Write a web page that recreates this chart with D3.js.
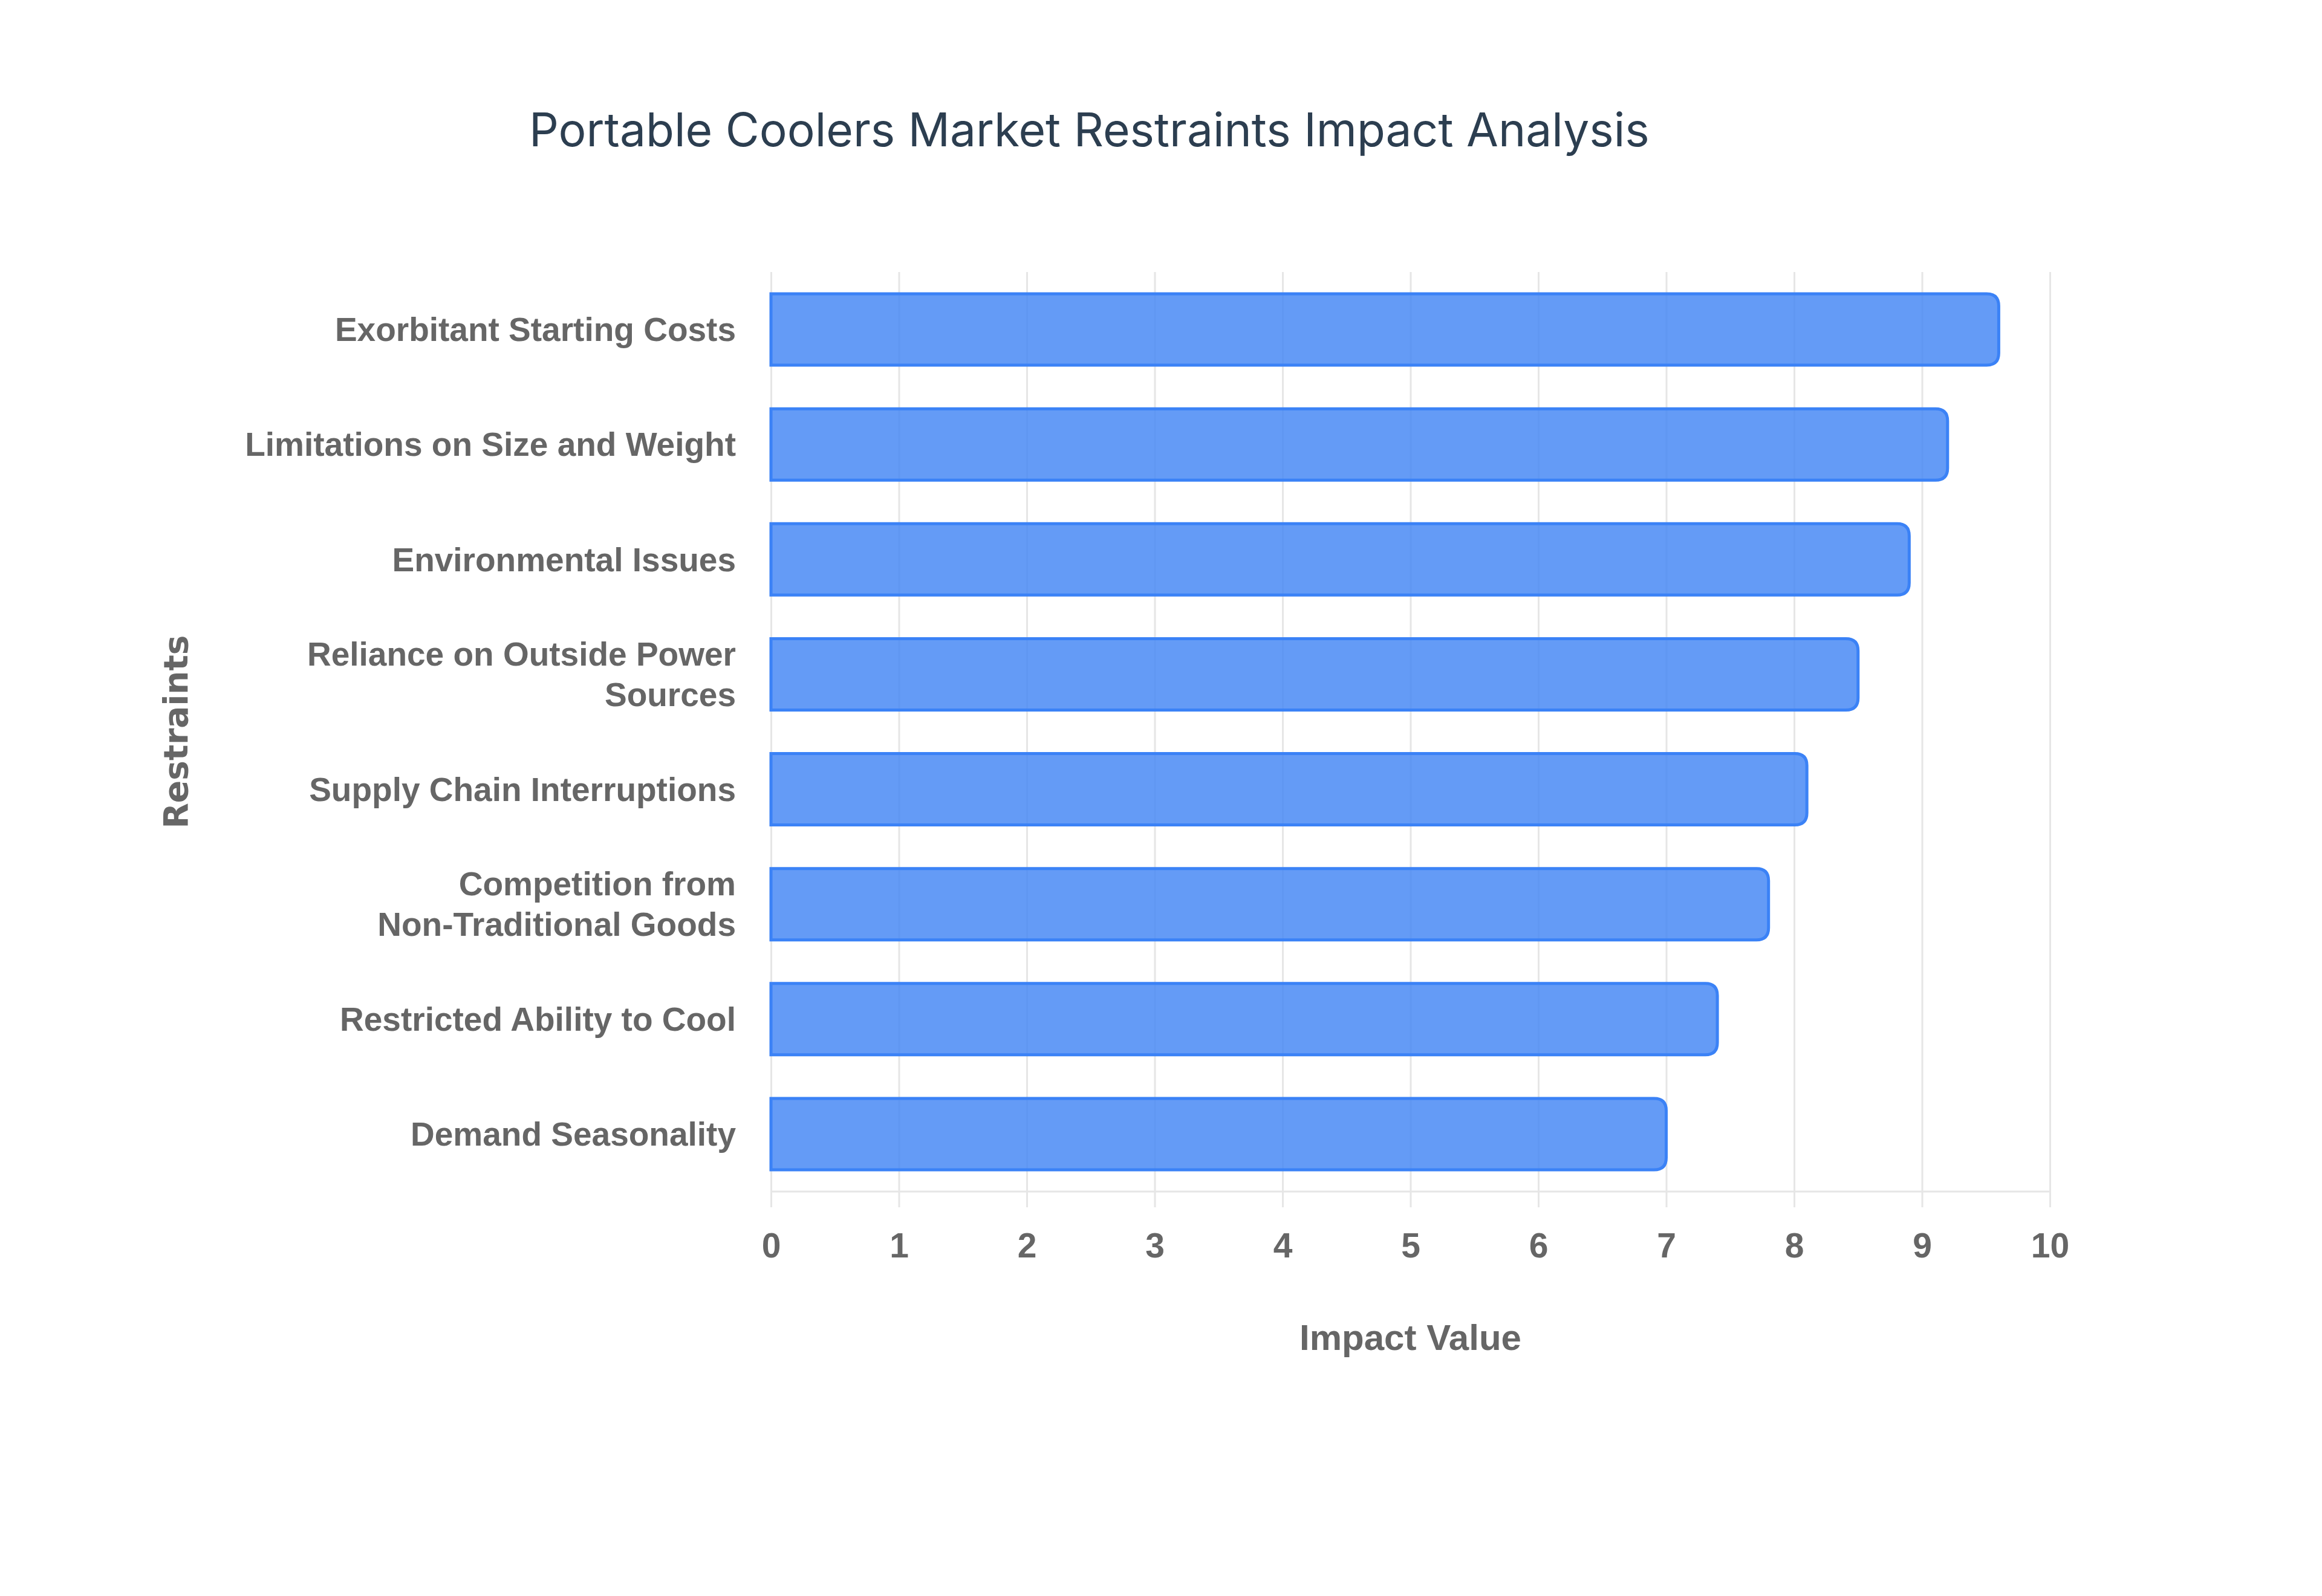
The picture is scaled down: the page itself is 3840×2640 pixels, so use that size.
<!DOCTYPE html>
<html>
<head>
<meta charset="utf-8">
<script src="https://cdn.jsdelivr.net/npm/d3@7"></script>
<style>
  html, body { margin: 0; padding: 0; background: #ffffff; }
  svg { display: block; }
</style>
</head>
<body>
<svg id="chart" width="3840" height="2640"></svg>
<script>
const categories = [
  "Exorbitant Starting Costs",
  "Limitations on Size and Weight",
  "Environmental Issues",
  "Reliance on Outside Power Sources",
  "Supply Chain Interruptions",
  "Competition from Non-Traditional Goods",
  "Restricted Ability to Cool",
  "Demand Seasonality"
];
const impactValues = [9.6, 9.2, 8.9, 8.5, 8.1, 7.8, 7.4, 7.0];
const xTicks = [0, 1, 2, 3, 4, 5, 6, 7, 8, 9, 10];
const titleText = "Portable Coolers Market Restraints Impact Analysis";
const xAxisTitle = "Impact Value";
const yAxisTitle = "Restraints";

const svg = d3.select("#chart");
const W = 3840, H = 2640;
const margin = { left: 1275, right: W - 3390, top: 450, bottom: H - 1971 };
const plotW = W - margin.left - margin.right;
const plotH = H - margin.top - margin.bottom;

const x = d3.scaleLinear().domain([0, 10]).range([0, plotW]);
const y = d3.scaleBand().domain(categories).range([0, plotH]).paddingInner(0.38).paddingOuter(0.19);

const g = svg.append("g").attr("transform", `translate(${margin.left},${margin.top})`);

const gridColor = "#e6e6e6";
const textGray = "#666666";

// gridlines via axis
const gridAxis = d3.axisBottom(x).tickValues(xTicks).tickSize(-(plotH + 26)).tickFormat("");
g.append("g")
  .attr("transform", `translate(0,${plotH + 26})`)
  .call(gridAxis)
  .call(s => s.select(".domain").remove())
  .call(s => s.selectAll("line").attr("stroke", gridColor).attr("stroke-width", 3));

// bottom axis line
g.append("line")
  .attr("x1", x(0)).attr("x2", x(10))
  .attr("y1", plotH).attr("y2", plotH)
  .attr("stroke", gridColor).attr("stroke-width", 3);

// tick labels
const xAxis = d3.axisBottom(x).tickValues(xTicks).tickSize(0).tickPadding(0).tickFormat(d3.format("d"));
g.append("g")
  .attr("transform", `translate(0,${plotH})`)
  .call(xAxis)
  .call(s => s.select(".domain").remove())
  .call(s => s.selectAll("text")
    .attr("y", 109)
    .attr("dy", 0)
    .attr("font-family", "Liberation Sans, Arial, sans-serif")
    .attr("font-weight", "bold")
    .attr("font-size", 57)
    .attr("fill", textGray));

// bars: rounded right corners only
const r = 20;
function barPath(d, i) {
  const x0 = x(0), x1 = x(impactValues[i]);
  const y0 = y(d), h = y.bandwidth(), y1 = y0 + h;
  return `M${x0},${y0} L${x1 - r},${y0} Q${x1},${y0} ${x1},${y0 + r} L${x1},${y1 - r} Q${x1},${y1} ${x1 - r},${y1} L${x0},${y1} Z`;
}
g.append("g").selectAll("path")
  .data(categories)
  .join("path")
  .attr("d", (d, i) => barPath(d, i))
  .attr("fill", "rgba(66,133,244,0.82)")
  .attr("stroke", "#3b82f6")
  .attr("stroke-width", 5);

// y labels with wrapping
const yAxis = d3.axisLeft(y).tickSize(0).tickPadding(58);
const yG = g.append("g").call(yAxis);
yG.select(".domain").remove();
yG.selectAll("text")
  .attr("font-family", "Liberation Sans, Arial, sans-serif")
  .attr("font-weight", "bold")
  .attr("font-size", 55)
  .attr("fill", textGray)
  .each(function(d) {
    const t = d3.select(this);
    const words = d.split(" ");
    const maxW = 840;
    t.text(null);
    let lines = [];
    let cur = [];
    const probe = t.append("tspan");
    words.forEach(w => {
      const test = cur.concat([w]).join(" ");
      probe.text(test);
      if (probe.node().getComputedTextLength() > maxW && cur.length) {
        lines.push(cur.join(" "));
        cur = [w];
      } else {
        cur.push(w);
      }
    });
    lines.push(cur.join(" "));
    probe.remove();
    const lh = 67;
    const xPos = t.attr("x");
    lines.forEach((ln, k) => {
      t.append("tspan")
        .attr("x", xPos)
        .attr("dy", k === 0 ? (0.35 * 55 - (lines.length - 1) * lh / 2) + "px" : lh + "px")
        .text(ln);
    });
    t.attr("dy", null);
  });

// axis titles
svg.append("text")
  .attr("x", margin.left + plotW / 2)
  .attr("y", 2233)
  .attr("text-anchor", "middle")
  .attr("font-family", "Liberation Sans, Arial, sans-serif")
  .attr("font-weight", "bold")
  .attr("font-size", 60)
  .attr("fill", textGray)
  .text(xAxisTitle);

svg.append("text")
  .attr("transform", `translate(310,${margin.top + plotH / 2}) rotate(-90)`)
  .attr("text-anchor", "middle")
  .attr("font-family", "DejaVu Sans, Verdana, sans-serif")
  .attr("font-weight", "bold")
  .attr("font-size", 55)
  .attr("fill", textGray)
  .text(yAxisTitle);

// title
const title = svg.append("text")
  .attr("x", 875)
  .attr("y", 242)
  .attr("text-anchor", "start")
  .attr("font-family", "Inter, Roboto, sans-serif")
  .attr("font-weight", 400)
  .attr("font-size", 86)
  .attr("fill", "#2c3e50")
  .text(titleText);
const tw = title.node().getComputedTextLength();
title.attr("font-size", 86 * 1853 / tw);
</script>
</body>
</html>
